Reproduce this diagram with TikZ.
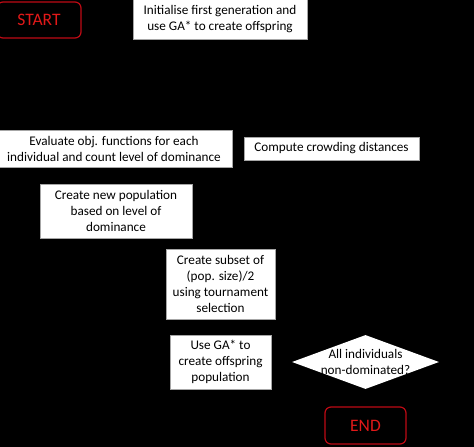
\documentclass[tikz,border=0pt]{standalone}
\usepackage{fontspec}
\setmainfont{Carlito}
\usetikzlibrary{shapes.geometric}
\definecolor{boxred}{RGB}{190,10,20}
\definecolor{txtred}{RGB}{225,25,25}
\tikzset{
  wbox/.style={draw=gray!70, line width=0.8pt, fill=white, inner sep=0pt, align=center, font=\fontsize{13.2}{16}\selectfont, text=black},
  term/.style={draw=boxred, line width=1.2pt, rounded corners=6pt, fill=black, text=txtred, inner sep=0pt, font=\fontsize{17.5}{20}\selectfont},
  dia/.style={diamond, fill=white, draw=none, inner sep=0pt},
  diatext/.style={align=center, font=\fontsize{13.2}{16}\selectfont, text=black, inner sep=0pt}
}
\begin{document}
\begin{tikzpicture}[x=1pt,y=-1pt]
\fill[black] (0,0) rectangle (474,447);
\useasboundingbox (0,0) rectangle (474,447);
\node[term, minimum width=84pt, minimum height=36pt] (start) at (39,20) {START};
\node[wbox, minimum width=174pt, minimum height=40pt] (init) at (220,19.5) {Initialise first generation and\\use GA* to create offspring};
\node[wbox, minimum width=236pt, minimum height=37pt] (eval) at (114,148.5) {Evaluate obj. functions for each\\individual and count level of dominance};
\node[wbox, minimum width=175pt, minimum height=23pt] (crowd) at (331.5,148.5) {Compute crowding distances};
\node[wbox, minimum width=152pt, minimum height=54pt] (newpop) at (116,211) {Create new population\\based on level of\\dominance};
\node[wbox, minimum width=109pt, minimum height=70pt] (subset) at (220.5,284) {Create subset of\\(pop. size)/2\\using tournament\\selection};
\node[wbox, minimum width=101pt, minimum height=54pt] (useGA) at (220.5,362) {Use GA* to\\create offspring\\population};
\node[dia, minimum width=147pt, minimum height=54pt] (dec) at (365.5,362) {};
\node[diatext] (dectext) at (dec.center) {All individuals\\non-dominated?};
\node[term, minimum width=81pt, minimum height=37pt] (end) at (365.5,425.5) {END};
\end{tikzpicture}
\end{document}
